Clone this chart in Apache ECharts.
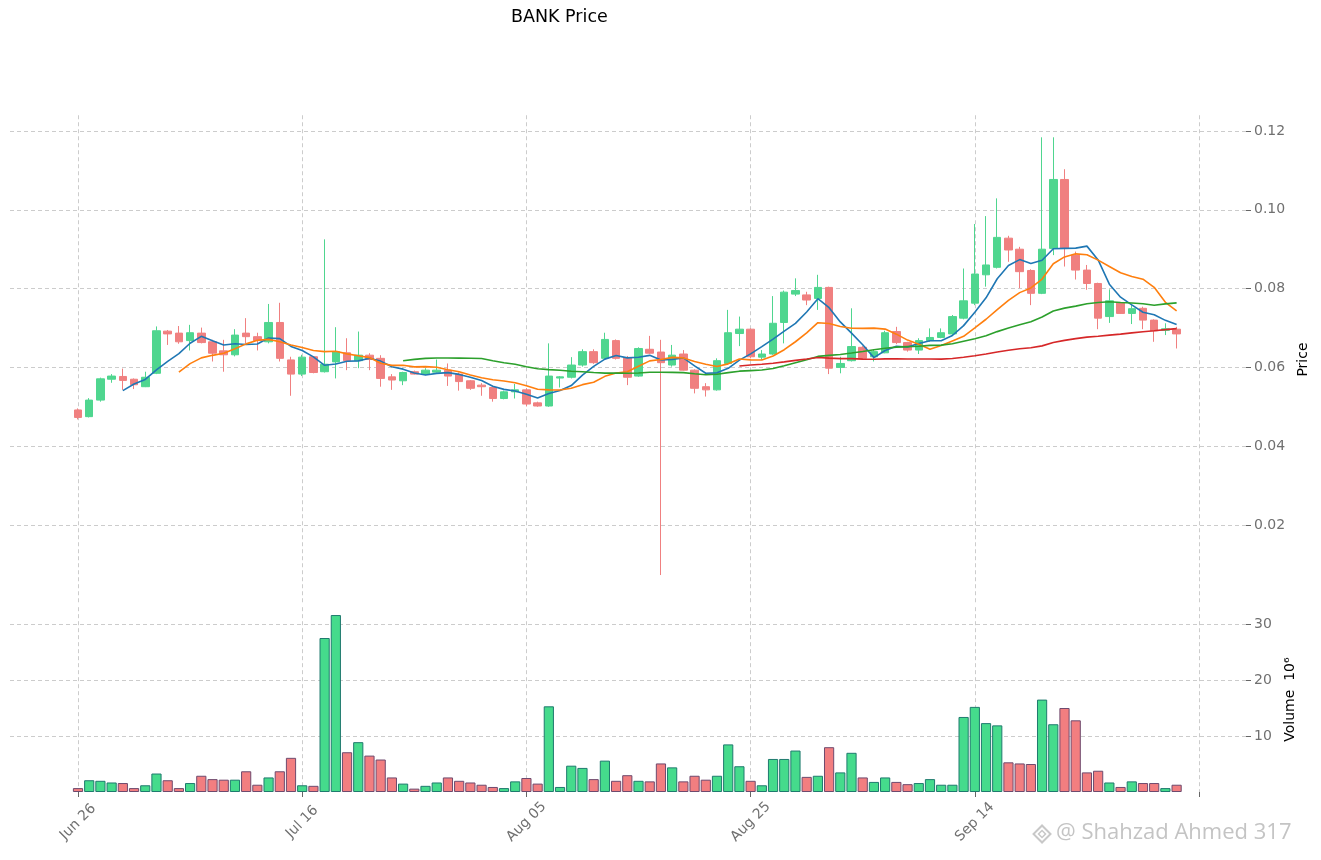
<!DOCTYPE html>
<html><head><meta charset="utf-8">
<script src="https://cdn.jsdelivr.net/npm/echarts@6/dist/echarts.min.js"></script>
<style>html,body{margin:0;padding:0;background:#fff;}#c{width:1321px;height:860px;}</style>
</head><body><div id="c"></div>
<script>
// ---- data ----
const startDate = [2025, 5, 26]; // Jun 26
const tickDays = [0, 20, 40, 60, 80, 100];
const labelDays = [0, 20, 40, 60, 80];
const priceTicks = [0.02, 0.04, 0.06, 0.08, 0.10, 0.12];
const volumeTicks = [10, 20, 30];

const open = [0.0492,0.0475,0.0517,0.0570,0.0577,0.0570,0.0551,0.0585,0.0692,0.0687,
0.0668,0.0687,0.0665,0.0642,0.0632,0.0687,0.0678,0.0665,0.0714,0.0619,
0.0583,0.0627,0.0589,0.0614,0.0637,0.0617,0.0631,0.0623,0.0576,0.0566,
0.0589,0.0583,0.0588,0.0593,0.0583,0.0566,0.0555,0.0549,0.0521,0.0538,
0.0543,0.0510,0.0502,0.0573,0.0575,0.0606,0.0640,0.0623,0.0668,0.0625,
0.0578,0.0646,0.0639,0.0606,0.0634,0.0593,0.0551,0.0543,0.0610,0.0686,
0.0697,0.0626,0.0634,0.0714,0.0786,0.0784,0.0775,0.0803,0.0600,0.0617,
0.0651,0.0627,0.0637,0.0691,0.0663,0.0644,0.0668,0.0676,0.0685,0.0725,
0.0763,0.0835,0.0854,0.0928,0.0900,0.0846,0.0788,0.0902,0.1077,0.0885,
0.0847,0.0813,0.0729,0.0764,0.0737,0.0750,0.0720,0.0694,0.0697];
const close = [0.0473,0.0517,0.0571,0.0578,0.0567,0.0556,0.0575,0.0693,0.0685,0.0665,
0.0688,0.0663,0.0636,0.0632,0.0682,0.0678,0.0668,0.0714,0.0623,0.0583,
0.0626,0.0587,0.0608,0.0640,0.0617,0.0631,0.0620,0.0572,0.0568,0.0587,
0.0583,0.0593,0.0593,0.0578,0.0564,0.0547,0.0551,0.0521,0.0538,0.0543,
0.0507,0.0502,0.0578,0.0576,0.0606,0.0640,0.0612,0.0671,0.0623,0.0575,
0.0648,0.0636,0.0612,0.0631,0.0593,0.0547,0.0543,0.0617,0.0688,0.0697,
0.0627,0.0634,0.0712,0.0791,0.0795,0.0771,0.0803,0.0598,0.0610,0.0653,
0.0623,0.0640,0.0688,0.0663,0.0644,0.0668,0.0676,0.0688,0.0729,0.0769,
0.0837,0.0860,0.0930,0.0898,0.0843,0.0788,0.0900,0.1077,0.0902,0.0847,
0.0813,0.0725,0.0769,0.0737,0.0749,0.0720,0.0693,0.0698,0.0685];
const low = [0.0468,0.0473,0.0513,0.0561,0.0543,0.0545,0.0550,0.0583,0.0657,0.0660,
0.0643,0.0661,0.0615,0.0589,0.0628,0.0661,0.0643,0.0661,0.0615,0.0528,
0.0578,0.0585,0.0587,0.0572,0.0593,0.0598,0.0593,0.0551,0.0543,0.0555,
0.0582,0.0580,0.0587,0.0553,0.0541,0.0543,0.0528,0.0513,0.0519,0.0521,
0.0501,0.0500,0.0500,0.0549,0.0572,0.0602,0.0609,0.0620,0.0620,0.0555,
0.0576,0.0634,0.0073,0.0602,0.0592,0.0534,0.0526,0.0541,0.0606,0.0654,
0.0623,0.0619,0.0632,0.0661,0.0781,0.0758,0.0746,0.0583,0.0585,0.0615,
0.0621,0.0615,0.0636,0.0659,0.0640,0.0634,0.0665,0.0674,0.0682,0.0722,
0.0758,0.0805,0.0851,0.0868,0.0801,0.0758,0.0786,0.0885,0.0856,0.0823,
0.0797,0.0697,0.0713,0.0736,0.0710,0.0697,0.0665,0.0682,0.0648];
const high = [0.0496,0.0522,0.0574,0.0583,0.0597,0.0572,0.0589,0.0704,0.0695,0.0705,
0.0708,0.0701,0.0670,0.0670,0.0697,0.0725,0.0688,0.0761,0.0764,0.0627,
0.0632,0.0629,0.0925,0.0702,0.0674,0.0691,0.0636,0.0631,0.0583,0.0589,
0.0592,0.0598,0.0620,0.0610,0.0587,0.0568,0.0560,0.0551,0.0541,0.0558,
0.0547,0.0513,0.0661,0.0578,0.0626,0.0646,0.0646,0.0688,0.0671,0.0629,
0.0651,0.0680,0.0670,0.0657,0.0644,0.0595,0.0560,0.0623,0.0746,0.0729,
0.0699,0.0644,0.0781,0.0795,0.0826,0.0792,0.0835,0.0805,0.0627,0.0750,
0.0654,0.0644,0.0693,0.0703,0.0665,0.0674,0.0699,0.0699,0.0733,0.0851,
0.0964,0.0984,0.1029,0.0934,0.0906,0.0849,0.1184,0.1184,0.1103,0.0894,
0.0860,0.0815,0.0798,0.0766,0.0758,0.0754,0.0722,0.0712,0.0703];
// volume in millions
const volume = [0.7,2.1,2.0,1.7,1.6,0.7,1.2,3.3,2.1,0.7,
1.6,2.9,2.3,2.2,2.2,3.7,1.3,2.6,3.7,6.1,
1.2,1.1,27.5,31.6,7.1,8.9,6.5,5.8,2.6,1.5,
0.6,1.1,1.7,2.6,2.0,1.7,1.3,0.9,0.7,1.9,
2.5,1.5,15.3,0.9,4.7,4.3,2.3,5.6,2.0,3.0,
2.0,1.9,5.1,4.4,1.9,2.9,2.2,2.9,8.5,4.6,
2.0,1.2,5.9,5.9,7.4,2.7,2.9,8.0,3.5,7.0,
2.6,1.8,2.6,1.8,1.4,1.6,2.3,1.3,1.3,13.4,
15.2,12.3,11.9,5.3,5.1,5.0,16.5,12.1,15.0,12.8,
3.5,3.8,1.7,0.9,1.9,1.6,1.6,0.7,1.3];
const maPeriods = [5, 10, 30, 60];
const maColors = ['#1f77b4', '#ff7f0e', '#2ca02c', '#d62728'];

// ---- helpers ----
const MONTHS = ['Jan','Feb','Mar','Apr','May','Jun','Jul','Aug','Sep','Oct','Nov','Dec'];
function dayLabel(i) {
  const d = new Date(Date.UTC(startDate[0], startDate[1], startDate[2] + i));
  const dd = d.getUTCDate();
  return MONTHS[d.getUTCMonth()] + ' ' + (dd < 10 ? '0' + dd : dd);
}
function sma(arr, n) {
  const out = [];
  for (let i = n - 1; i < arr.length; i++) {
    let s = 0;
    for (let k = i - n + 1; k <= i; k++) s += arr[k];
    out.push([i, s / n]);
  }
  return out;
}

const UP = '#4fd68f', DOWN = '#f08080';
const VUP = '#45db8c', VDOWN = '#f27e80', VUPB = '#1f7a6e', VDOWNB = '#6e4a6e';
const GRID_COLOR = '#cccccc';
const LABEL_COLOR = '#707070';
const FONT = 'DejaVu Sans';

const candleData = open.map((o, i) => [i, o, close[i], low[i], high[i]]);
const volData = volume.map((v, i) => {
  const up = close[i] >= open[i];
  return { value: [i, v], itemStyle: { color: up ? VUP : VDOWN, borderColor: up ? VUPB : VDOWNB, borderWidth: 1 } };
});

const X_MIN = -6.066, X_MAX = 104.19;
const splitStyle = () => ({ show: true, lineStyle: { color: GRID_COLOR, type: [4, 3], width: 1 } });

const chart = echarts.init(document.getElementById('c'), null, { renderer: 'canvas' });
const option = {
  backgroundColor: '#ffffff',
  animation: false,
  textStyle: { fontFamily: FONT },
  title: {
    text: 'BANK Price', left: 511, top: 8, padding: 0,
    textStyle: { fontFamily: FONT, fontSize: 17.5, fontWeight: 'normal', color: '#000' }
  },
  grid: [
    { left: 10, right: 75, top: 115.24, height: 488.56, outerBoundsMode: 'none' },
    { left: 10, right: 75, top: 607.2, height: 184.8, outerBoundsMode: 'none' }
  ],
  xAxis: [
    { type: 'value', gridIndex: 0, min: X_MIN, max: X_MAX,
      axisLine: { show: false, onZero: false },
      axisTick: { show: false, customValues: tickDays },
      axisLabel: { show: false, customValues: labelDays },
      splitLine: splitStyle() },
    { type: 'value', gridIndex: 1, min: X_MIN, max: X_MAX,
      axisLine: { show: false, onZero: false },
      axisTick: { show: true, length: 5, customValues: tickDays, lineStyle: { color: '#666' } },
      axisLabel: { show: true, customValues: labelDays, rotate: 45, align: 'center', verticalAlign: 'middle',
        margin: 30, color: LABEL_COLOR, fontSize: 14, fontFamily: FONT,
        formatter: v => dayLabel(Math.round(v)) },
      splitLine: splitStyle() }
  ],
  yAxis: [
    { type: 'value', gridIndex: 0, position: 'right', min: 0, max: 0.124, scale: false,
      name: 'Price', nameLocation: 'middle', nameRotate: 90, nameGap: 48,
      nameTextStyle: { color: '#000', fontSize: 14, fontFamily: FONT },
      axisLine: { show: false, onZero: false },
      axisTick: { show: true, length: 5, customValues: priceTicks, lineStyle: { color: '#666' } },
      axisLabel: { customValues: priceTicks, margin: 8, color: LABEL_COLOR, fontSize: 14, fontFamily: FONT,
        formatter: v => v.toFixed(2) },
      splitLine: splitStyle() },
    { type: 'value', gridIndex: 1, position: 'right', min: 0, max: 33,
      name: 'Volume  10\u2076', nameLocation: 'middle', nameRotate: 90, nameGap: 37,
      nameTextStyle: { color: '#000', fontSize: 14, fontFamily: FONT },
      axisLine: { show: false, onZero: false },
      axisTick: { show: true, length: 5, customValues: volumeTicks, lineStyle: { color: '#666' } },
      axisLabel: { customValues: volumeTicks, margin: 8, color: LABEL_COLOR, fontSize: 14, fontFamily: FONT },
      splitLine: splitStyle() }
  ],
  series: [
    { type: 'candlestick', name: 'BANK', xAxisIndex: 0, yAxisIndex: 0,
      data: candleData, encode: { x: 0, y: [1, 2, 3, 4] }, barWidth: 8,
      itemStyle: { color: UP, color0: DOWN, borderColor: UP, borderColor0: DOWN, borderWidth: 1 } },
    ...maPeriods.map((p, k) => ({
      type: 'line', name: 'MA' + p, xAxisIndex: 0, yAxisIndex: 0,
      data: sma(close, p), showSymbol: false, symbol: 'none', smooth: false,
      lineStyle: { color: maColors[k], width: 1.6 }, z: 3
    })),
    { type: 'bar', name: 'Volume', xAxisIndex: 1, yAxisIndex: 1, data: volData, barWidth: 10.2 }
  ],
  graphic: [
    { type: 'group', left: 1030, top: 822, silent: true, children: [
      { type: 'rect', shape: { x: -6, y: -6, width: 12, height: 12 }, rotation: Math.PI / 4, x: 11, y: 12,
        style: { fill: 'none', stroke: '#c8c8c8', lineWidth: 2 } },
      { type: 'rect', shape: { x: -2.5, y: -2.5, width: 5, height: 5 }, rotation: Math.PI / 4, x: 11, y: 12,
        style: { fill: 'none', stroke: '#c8c8c8', lineWidth: 1.5 } }
    ]},
    { type: 'text', left: 1056, top: 822, silent: true,
      style: { text: '@ Shahzad Ahmed 317', fill: '#c4c4c4', font: '22px "Open Sans", "DejaVu Sans", sans-serif' } }
  ]
};
chart.setOption(option);
</script>
</body></html>
